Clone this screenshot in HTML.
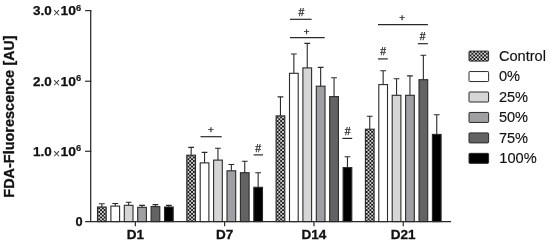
<!DOCTYPE html>
<html><head><meta charset="utf-8"><title>FDA-Fluorescence</title>
<style>html,body{margin:0;padding:0;background:#fff}svg{display:block}</style></head>
<body>
<svg width="550" height="243" viewBox="0 0 550 243">
<defs><pattern id="chk" width="3.64" height="3.64" patternUnits="userSpaceOnUse"><rect width="3.64" height="3.64" fill="#111"/><rect x="1.9" y="0.08" width="1.66" height="1.66" fill="#fff"/><rect x="0.08" y="1.9" width="1.66" height="1.66" fill="#fff"/></pattern></defs>
<rect width="550" height="243" fill="#fff"/>
<path d="M101.85 207.00V203.80M98.95 203.80H104.75" stroke="#2a2a2a" stroke-width="1.1" fill="none"/>
<path d="M115.25 206.10V203.50M112.35 203.50H118.15" stroke="#2a2a2a" stroke-width="1.1" fill="none"/>
<path d="M128.65 205.30V202.30M125.75 202.30H131.55" stroke="#2a2a2a" stroke-width="1.1" fill="none"/>
<path d="M142.05 207.30V205.40M139.15 205.40H144.95" stroke="#2a2a2a" stroke-width="1.1" fill="none"/>
<path d="M155.45 206.60V204.60M152.55 204.60H158.35" stroke="#2a2a2a" stroke-width="1.1" fill="none"/>
<path d="M168.85 207.00V205.40M165.95 205.40H171.75" stroke="#2a2a2a" stroke-width="1.1" fill="none"/>
<path d="M191.15 155.20V147.40M188.25 147.40H194.05" stroke="#2a2a2a" stroke-width="1.1" fill="none"/>
<path d="M204.55 162.90V152.40M201.65 152.40H207.45" stroke="#2a2a2a" stroke-width="1.1" fill="none"/>
<path d="M217.95 160.10V148.30M215.05 148.30H220.85" stroke="#2a2a2a" stroke-width="1.1" fill="none"/>
<path d="M231.35 170.80V164.50M228.45 164.50H234.25" stroke="#2a2a2a" stroke-width="1.1" fill="none"/>
<path d="M244.75 172.70V161.30M241.85 161.30H247.65" stroke="#2a2a2a" stroke-width="1.1" fill="none"/>
<path d="M258.15 187.30V172.70M255.25 172.70H261.05" stroke="#2a2a2a" stroke-width="1.1" fill="none"/>
<path d="M280.45 115.90V96.90M277.55 96.90H283.35" stroke="#2a2a2a" stroke-width="1.1" fill="none"/>
<path d="M293.85 73.30V54.00M290.95 54.00H296.75" stroke="#2a2a2a" stroke-width="1.1" fill="none"/>
<path d="M307.25 67.90V43.40M304.35 43.40H310.15" stroke="#2a2a2a" stroke-width="1.1" fill="none"/>
<path d="M320.65 86.20V67.40M317.75 67.40H323.55" stroke="#2a2a2a" stroke-width="1.1" fill="none"/>
<path d="M334.05 96.60V77.80M331.15 77.80H336.95" stroke="#2a2a2a" stroke-width="1.1" fill="none"/>
<path d="M347.45 167.60V156.80M344.55 156.80H350.35" stroke="#2a2a2a" stroke-width="1.1" fill="none"/>
<path d="M369.75 129.20V116.20M366.85 116.20H372.65" stroke="#2a2a2a" stroke-width="1.1" fill="none"/>
<path d="M383.15 84.60V70.80M380.25 70.80H386.05" stroke="#2a2a2a" stroke-width="1.1" fill="none"/>
<path d="M396.55 95.30V78.70M393.65 78.70H399.45" stroke="#2a2a2a" stroke-width="1.1" fill="none"/>
<path d="M409.95 95.30V75.90M407.05 75.90H412.85" stroke="#2a2a2a" stroke-width="1.1" fill="none"/>
<path d="M423.35 79.70V55.30M420.45 55.30H426.25" stroke="#2a2a2a" stroke-width="1.1" fill="none"/>
<path d="M436.75 134.40V114.70M433.85 114.70H439.65" stroke="#2a2a2a" stroke-width="1.1" fill="none"/>
<rect x="97.50" y="207.00" width="8.70" height="14.60" fill="url(#chk)" stroke="#2a2a2a" stroke-width="1.1"/>
<rect x="110.90" y="206.10" width="8.70" height="15.50" fill="#ffffff" stroke="#2a2a2a" stroke-width="1.1"/>
<rect x="124.30" y="205.30" width="8.70" height="16.30" fill="#d6d6d6" stroke="#2a2a2a" stroke-width="1.1"/>
<rect x="137.70" y="207.30" width="8.70" height="14.30" fill="#a0a0a4" stroke="#2a2a2a" stroke-width="1.1"/>
<rect x="151.10" y="206.60" width="8.70" height="15.00" fill="#636363" stroke="#2a2a2a" stroke-width="1.1"/>
<rect x="164.50" y="207.00" width="8.70" height="14.60" fill="#000000" stroke="#2a2a2a" stroke-width="1.1"/>
<rect x="186.80" y="155.20" width="8.70" height="66.40" fill="url(#chk)" stroke="#2a2a2a" stroke-width="1.1"/>
<rect x="200.20" y="162.90" width="8.70" height="58.70" fill="#ffffff" stroke="#2a2a2a" stroke-width="1.1"/>
<rect x="213.60" y="160.10" width="8.70" height="61.50" fill="#d6d6d6" stroke="#2a2a2a" stroke-width="1.1"/>
<rect x="227.00" y="170.80" width="8.70" height="50.80" fill="#a0a0a4" stroke="#2a2a2a" stroke-width="1.1"/>
<rect x="240.40" y="172.70" width="8.70" height="48.90" fill="#636363" stroke="#2a2a2a" stroke-width="1.1"/>
<rect x="253.80" y="187.30" width="8.70" height="34.30" fill="#000000" stroke="#2a2a2a" stroke-width="1.1"/>
<rect x="276.10" y="115.90" width="8.70" height="105.70" fill="url(#chk)" stroke="#2a2a2a" stroke-width="1.1"/>
<rect x="289.50" y="73.30" width="8.70" height="148.30" fill="#ffffff" stroke="#2a2a2a" stroke-width="1.1"/>
<rect x="302.90" y="67.90" width="8.70" height="153.70" fill="#d6d6d6" stroke="#2a2a2a" stroke-width="1.1"/>
<rect x="316.30" y="86.20" width="8.70" height="135.40" fill="#a0a0a4" stroke="#2a2a2a" stroke-width="1.1"/>
<rect x="329.70" y="96.60" width="8.70" height="125.00" fill="#636363" stroke="#2a2a2a" stroke-width="1.1"/>
<rect x="343.10" y="167.60" width="8.70" height="54.00" fill="#000000" stroke="#2a2a2a" stroke-width="1.1"/>
<rect x="365.40" y="129.20" width="8.70" height="92.40" fill="url(#chk)" stroke="#2a2a2a" stroke-width="1.1"/>
<rect x="378.80" y="84.60" width="8.70" height="137.00" fill="#ffffff" stroke="#2a2a2a" stroke-width="1.1"/>
<rect x="392.20" y="95.30" width="8.70" height="126.30" fill="#d6d6d6" stroke="#2a2a2a" stroke-width="1.1"/>
<rect x="405.60" y="95.30" width="8.70" height="126.30" fill="#a0a0a4" stroke="#2a2a2a" stroke-width="1.1"/>
<rect x="419.00" y="79.70" width="8.70" height="141.90" fill="#636363" stroke="#2a2a2a" stroke-width="1.1"/>
<rect x="432.40" y="134.40" width="8.70" height="87.20" fill="#000000" stroke="#2a2a2a" stroke-width="1.1"/>
<path d="M90.7 10.0V221.6M85.1 221.6H451.1" stroke="#2a2a2a" stroke-width="1.25" fill="none"/>
<path d="M85.1 151.27H91.3" stroke="#2a2a2a" stroke-width="1.2"/>
<path d="M85.1 81.24H91.3" stroke="#2a2a2a" stroke-width="1.2"/>
<path d="M85.1 10.61H91.3" stroke="#2a2a2a" stroke-width="1.2"/>
<path d="M135.35 221.6V226.2" stroke="#2a2a2a" stroke-width="1.2"/>
<path d="M224.65 221.6V226.2" stroke="#2a2a2a" stroke-width="1.2"/>
<path d="M313.95 221.6V226.2" stroke="#2a2a2a" stroke-width="1.2"/>
<path d="M403.25 221.6V226.2" stroke="#2a2a2a" stroke-width="1.2"/>
<text x="135.35" y="239.4" text-anchor="middle" font-family="Liberation Sans, Arial, sans-serif" font-weight="700" font-size="13.5" fill="#111" stroke="#111" stroke-width="0.3">D1</text>
<text x="224.65" y="239.4" text-anchor="middle" font-family="Liberation Sans, Arial, sans-serif" font-weight="700" font-size="13.5" fill="#111" stroke="#111" stroke-width="0.3">D7</text>
<text x="313.95" y="239.4" text-anchor="middle" font-family="Liberation Sans, Arial, sans-serif" font-weight="700" font-size="13.5" fill="#111" stroke="#111" stroke-width="0.3">D14</text>
<text x="403.25" y="239.4" text-anchor="middle" font-family="Liberation Sans, Arial, sans-serif" font-weight="700" font-size="13.5" fill="#111" stroke="#111" stroke-width="0.3">D21</text>
<text x="33.1" y="155.87" font-family="Liberation Sans, Arial, sans-serif" font-weight="700" font-size="13.2" fill="#111" stroke="#111" stroke-width="0.25" textLength="18.7" lengthAdjust="spacingAndGlyphs">1.0</text>
<text x="52.9" y="157.67" font-family="Liberation Sans, Arial, sans-serif" font-size="12.3" fill="#333">×</text>
<text x="60.5" y="155.87" font-family="Liberation Sans, Arial, sans-serif" font-weight="700" font-size="13.2" fill="#111" stroke="#111" stroke-width="0.25" textLength="15.5" lengthAdjust="spacingAndGlyphs">10</text>
<text x="75.9" y="151.27" font-family="Liberation Sans, Arial, sans-serif" font-weight="700" font-size="9.3" fill="#111" stroke="#111" stroke-width="0.2">6</text>
<text x="33.1" y="85.54" font-family="Liberation Sans, Arial, sans-serif" font-weight="700" font-size="13.2" fill="#111" stroke="#111" stroke-width="0.25" textLength="18.7" lengthAdjust="spacingAndGlyphs">2.0</text>
<text x="52.9" y="87.34" font-family="Liberation Sans, Arial, sans-serif" font-size="12.3" fill="#333">×</text>
<text x="60.5" y="85.54" font-family="Liberation Sans, Arial, sans-serif" font-weight="700" font-size="13.2" fill="#111" stroke="#111" stroke-width="0.25" textLength="15.5" lengthAdjust="spacingAndGlyphs">10</text>
<text x="75.9" y="80.94" font-family="Liberation Sans, Arial, sans-serif" font-weight="700" font-size="9.3" fill="#111" stroke="#111" stroke-width="0.2">6</text>
<text x="33.1" y="15.21" font-family="Liberation Sans, Arial, sans-serif" font-weight="700" font-size="13.2" fill="#111" stroke="#111" stroke-width="0.25" textLength="18.7" lengthAdjust="spacingAndGlyphs">3.0</text>
<text x="52.9" y="17.01" font-family="Liberation Sans, Arial, sans-serif" font-size="12.3" fill="#333">×</text>
<text x="60.5" y="15.21" font-family="Liberation Sans, Arial, sans-serif" font-weight="700" font-size="13.2" fill="#111" stroke="#111" stroke-width="0.25" textLength="15.5" lengthAdjust="spacingAndGlyphs">10</text>
<text x="75.9" y="10.61" font-family="Liberation Sans, Arial, sans-serif" font-weight="700" font-size="9.3" fill="#111" stroke="#111" stroke-width="0.2">6</text>
<text x="75.6" y="225.90" font-family="Liberation Sans, Arial, sans-serif" font-weight="700" font-size="12.8" fill="#111" stroke="#111" stroke-width="0.25">0</text>
<text transform="translate(13.8 197.7) rotate(-90)" font-family="Liberation Sans, Arial, sans-serif" font-weight="700" font-size="14.2" fill="#111" stroke="#111" stroke-width="0.3" textLength="127.8" lengthAdjust="spacingAndGlyphs">FDA-Fluorescence</text>
<text transform="translate(13.8 65.4) rotate(-90)" font-family="Liberation Sans, Arial, sans-serif" font-weight="700" font-size="14.2" fill="#111" stroke="#111" stroke-width="0.3">[AU]</text>
<text x="210.8" y="133.40" text-anchor="middle" font-family="Liberation Sans, Arial, sans-serif" font-size="9.8" fill="#222" stroke="#222" stroke-width="0.3">+</text>
<path d="M200.5 136.7H221.7" stroke="#2a2a2a" stroke-width="1.2"/>
<text x="258.2" y="151.90" text-anchor="middle" font-family="Liberation Sans, Arial, sans-serif" font-size="10.4" fill="#222" stroke="#222" stroke-width="0.25">#</text>
<path d="M253.6 154.9H263" stroke="#2a2a2a" stroke-width="1.2"/>
<text x="301.3" y="16.40" text-anchor="middle" font-family="Liberation Sans, Arial, sans-serif" font-size="10.4" fill="#222" stroke="#222" stroke-width="0.25">#</text>
<path d="M290 19.3H311.6" stroke="#2a2a2a" stroke-width="1.2"/>
<text x="306.7" y="34.60" text-anchor="middle" font-family="Liberation Sans, Arial, sans-serif" font-size="9.8" fill="#222" stroke="#222" stroke-width="0.3">+</text>
<path d="M290 37.6H324.7" stroke="#2a2a2a" stroke-width="1.2"/>
<text x="347.6" y="135.20" text-anchor="middle" font-family="Liberation Sans, Arial, sans-serif" font-size="10.4" fill="#222" stroke="#222" stroke-width="0.25">#</text>
<path d="M342.4 138.4H352.2" stroke="#2a2a2a" stroke-width="1.2"/>
<text x="402" y="21.00" text-anchor="middle" font-family="Liberation Sans, Arial, sans-serif" font-size="9.8" fill="#222" stroke="#222" stroke-width="0.3">+</text>
<path d="M378 24.6H427.9" stroke="#2a2a2a" stroke-width="1.2"/>
<text x="422.7" y="39.90" text-anchor="middle" font-family="Liberation Sans, Arial, sans-serif" font-size="10.4" fill="#222" stroke="#222" stroke-width="0.25">#</text>
<path d="M417.8 43.7H427.9" stroke="#2a2a2a" stroke-width="1.2"/>
<text x="383.2" y="55.30" text-anchor="middle" font-family="Liberation Sans, Arial, sans-serif" font-size="10.4" fill="#222" stroke="#222" stroke-width="0.25">#</text>
<path d="M378 58.9H387.8" stroke="#2a2a2a" stroke-width="1.2"/>
<rect x="469" y="51.10" width="19.6" height="10.0" rx="0.8" fill="url(#chk)" stroke="#2a2a2a" stroke-width="1"/>
<text x="498.9" y="60.80" font-family="Liberation Sans, Arial, sans-serif" font-size="14.6" fill="#111" stroke="#111" stroke-width="0.15">Control</text>
<rect x="469" y="71.55" width="19.6" height="10.0" rx="0.8" fill="#ffffff" stroke="#2a2a2a" stroke-width="1"/>
<text x="498.9" y="81.25" font-family="Liberation Sans, Arial, sans-serif" font-size="14.6" fill="#111" stroke="#111" stroke-width="0.15">0%</text>
<rect x="469" y="92.00" width="19.6" height="10.0" rx="0.8" fill="#d6d6d6" stroke="#2a2a2a" stroke-width="1"/>
<text x="498.9" y="101.70" font-family="Liberation Sans, Arial, sans-serif" font-size="14.6" fill="#111" stroke="#111" stroke-width="0.15">25%</text>
<rect x="469" y="112.45" width="19.6" height="10.0" rx="0.8" fill="#a0a0a4" stroke="#2a2a2a" stroke-width="1"/>
<text x="498.9" y="122.15" font-family="Liberation Sans, Arial, sans-serif" font-size="14.6" fill="#111" stroke="#111" stroke-width="0.15">50%</text>
<rect x="469" y="132.90" width="19.6" height="10.0" rx="0.8" fill="#636363" stroke="#2a2a2a" stroke-width="1"/>
<text x="498.9" y="142.60" font-family="Liberation Sans, Arial, sans-serif" font-size="14.6" fill="#111" stroke="#111" stroke-width="0.15">75%</text>
<rect x="469" y="153.35" width="19.6" height="10.0" rx="0.8" fill="#000000" stroke="#2a2a2a" stroke-width="1"/>
<text x="499.3" y="163.05" font-family="Liberation Sans, Arial, sans-serif" font-size="14.6" fill="#111" stroke="#111" stroke-width="0.15">100%</text>
</svg>
</body></html>
